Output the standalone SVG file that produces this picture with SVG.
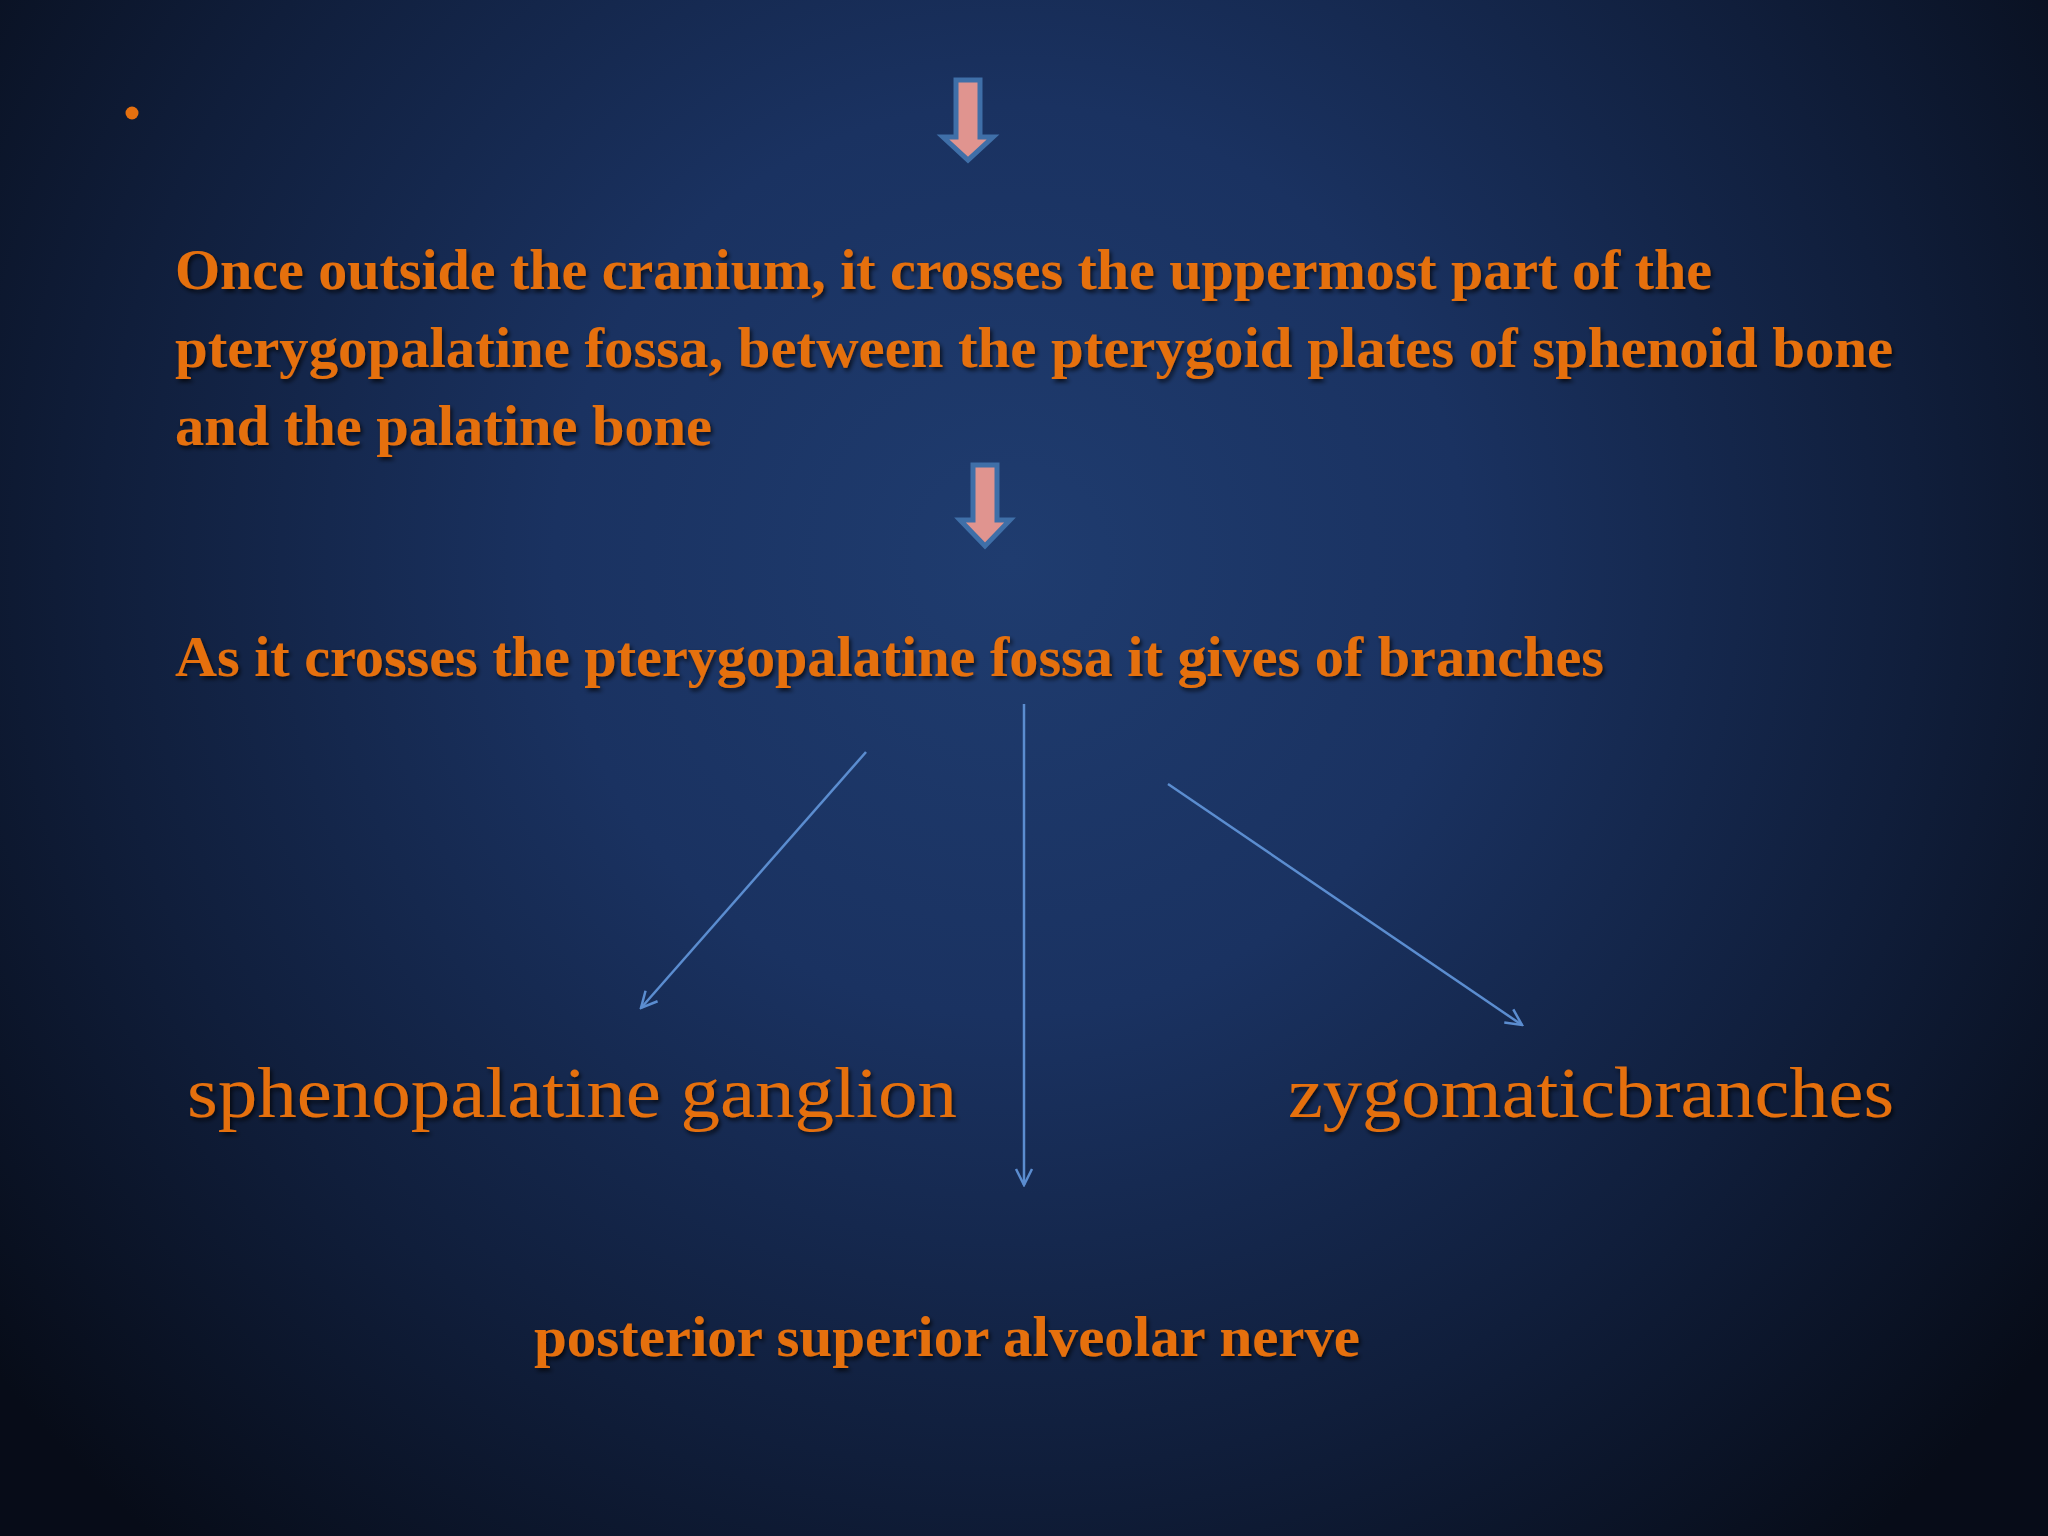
<svg xmlns="http://www.w3.org/2000/svg" width="2048" height="1536" viewBox="0 0 2048 1536">
<defs>
<radialGradient id="bg" cx="1010" cy="560" r="1300" gradientUnits="userSpaceOnUse">
<stop offset="0" stop-color="#1f3c6f"/>
<stop offset="0.35" stop-color="#1a3261"/>
<stop offset="0.7" stop-color="#101e3b"/>
<stop offset="1" stop-color="#070c18"/>
</radialGradient>
<filter id="sh" x="-5%" y="-20%" width="110%" height="140%">
<feDropShadow dx="2" dy="3" stdDeviation="2" flood-color="#000000" flood-opacity="0.7"/>
</filter>
<marker id="open" viewBox="0 0 20 20" refX="18" refY="10" markerWidth="20" markerHeight="20" markerUnits="userSpaceOnUse" orient="auto">
<path d="M2,2 L18,10 L2,18" fill="none" stroke="#5b8dd0" stroke-width="2.5"/>
</marker>
</defs>
<style>
.t{font-family:"Liberation Serif","DejaVu Serif",serif;fill:#e5700f;filter:url(#sh)}
.b{font-weight:bold;font-size:56px}
.r{font-size:72px}
.con{stroke:#5b8dd0;stroke-width:2.5;fill:none;marker-end:url(#open)}
.blk{fill:#e0948f;stroke:#3f6fa8;stroke-width:5;stroke-linejoin:miter}
</style>
<rect width="2048" height="1536" fill="url(#bg)"/>
<circle cx="132" cy="113" r="6.5" fill="#e5700f"/>
<g id="arrow1"><path class="blk" d="M956,80 L980,80 L980,137 L993,137 L968,160 L943,137 L956,137 Z"/></g>
<g id="text1">
<text class="t b" x="175" y="289" textLength="1537" lengthAdjust="spacingAndGlyphs">Once outside the cranium, it crosses the uppermost part of the</text>
<text class="t b" x="175" y="367" textLength="1718" lengthAdjust="spacingAndGlyphs">pterygopalatine fossa, between the pterygoid plates of sphenoid bone</text>
<text class="t b" x="175" y="445" textLength="537" lengthAdjust="spacingAndGlyphs">and the palatine bone</text>
</g>
<g id="arrow2"><path class="blk" d="M973,465 L997,465 L997,520 L1010,520 L985,546 L960,520 L973,520 Z"/></g>
<g id="text2"><text class="t b" x="175" y="676" textLength="1429" lengthAdjust="spacingAndGlyphs">As it crosses the pterygopalatine fossa it gives of branches</text></g>
<g id="connectors">
<line class="con" x1="866" y1="752" x2="641" y2="1008"/>
<line class="con" x1="1024" y1="704" x2="1024" y2="1185"/>
<line class="con" x1="1168" y1="784" x2="1522" y2="1025"/>
</g>
<g id="node-spheno"><text class="t r" x="187" y="1117" textLength="770" lengthAdjust="spacingAndGlyphs">sphenopalatine ganglion</text></g>
<g id="node-zygo"><text class="t r" x="1288" y="1117" textLength="606" lengthAdjust="spacingAndGlyphs">zygomaticbranches</text></g>
<g id="node-psa"><text class="t b" x="534" y="1356" textLength="826" lengthAdjust="spacingAndGlyphs">posterior superior alveolar nerve</text></g>
</svg>
